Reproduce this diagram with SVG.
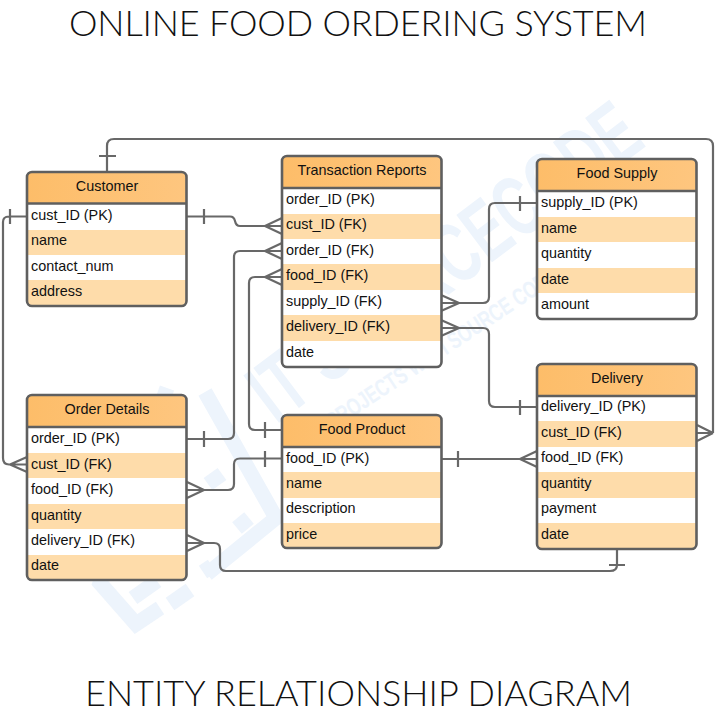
<svg xmlns="http://www.w3.org/2000/svg" width="720" height="720" viewBox="0 0 720 720">
<style>
text{font-family:"Liberation Sans",Arial,sans-serif;font-size:14.4px;fill:#111}
.h{text-anchor:middle}
text.t{font-family:Lato,"Open Sans",sans-serif;font-weight:300;font-size:36px;text-anchor:middle;fill:#111}
text.w{font-weight:700;fill:#edf4fc}
.f{fill:#fff}.a{fill:#fedcaa}.hd{fill:url(#g)}
.b{fill:none;stroke:#5f5f5f;stroke-width:2.6}
.hl{stroke:#5f5f5f;stroke-width:2.4}
#connectors path{fill:none;stroke:#686868;stroke-width:2.2}
.wm{fill:none;stroke:#edf4fc;stroke-width:15}
</style>
<defs>
<linearGradient id="g" x1="0" y1="0" x2="1" y2="0"><stop offset="0" stop-color="#fdbd69"/><stop offset="1" stop-color="#fec67f"/></linearGradient>
<clipPath id="c1"><rect x="27" y="172" width="159.500" height="134" rx="5"/></clipPath>
<clipPath id="c2"><rect x="27" y="395" width="159.500" height="185" rx="5"/></clipPath>
<clipPath id="c3"><rect x="282" y="156" width="159.500" height="211" rx="5"/></clipPath>
<clipPath id="c4"><rect x="282" y="415" width="159.500" height="133" rx="5"/></clipPath>
<clipPath id="c5"><rect x="537" y="159" width="159.500" height="160" rx="5"/></clipPath>
<clipPath id="c6"><rect x="537" y="364" width="159.500" height="185" rx="5"/></clipPath>
</defs>
<rect width="720" height="720" fill="#fff"/>
<g id="watermark">
<path class="wm" d="M167 388L100 583L136 624L160 608"/>
<path class="wm" d="M205 392L276 518L207 574"/>
<path class="wm" d="M133 598L157 581M170 604L190 590M203 572L212 566M237 528L249 518M208 484L222 474"/>
<text class="w" style="font-size:86px" textLength="465" lengthAdjust="spacingAndGlyphs" transform="translate(276 425) rotate(-37)">IT SOURCECODE</text>
<text class="w" style="font-size:24px" textLength="272" lengthAdjust="spacingAndGlyphs" transform="translate(333 430) rotate(-33.500)">PROJECTS WITH SOURCE CODE</text>
</g>
<text class="t" x="358" y="36" textLength="578" lengthAdjust="spacing">ONLINE FOOD ORDERING SYSTEM</text>
<text class="t" x="358.500" y="706" textLength="547" lengthAdjust="spacing">ENTITY RELATIONSHIP DIAGRAM</text>
<g id="connectors">
<path d="M107 172V146Q107 139 114 139H706Q713 139 713 146V433M99 156H116M713 433L697 425M713 433L697 441M713 433H697"/>
<path d="M187 216.500H230Q234 216.500 235 221Q236 226 240 226H282M204 209V224M265 226L282 218M265 226L282 234"/>
<path d="M27 216.500H9Q3 216.500 3 222V458Q3 464.500 9 464.500H27M10 209V224M10 464.500L27 457M10 464.500L27 472"/>
<path d="M187 439H228Q234 439 234 433V257Q234 251 240 251H282M204 431V447M265 251L282 243M265 251L282 259"/>
<path d="M282 430H255Q249 430 249 424V283Q249 277 255 277H282M265 422V438M265 277L282 269M265 277L282 285"/>
<path d="M282 458.500H240Q234 458.500 234 464V484Q234 490 228 490H187M265 451V467M204 490L187 482M204 490L187 498"/>
<path d="M187 543H214Q220 543 220 549V565Q220 571 226 571H610Q617 571 617 565V549M609 565H625M204 543L187 535M204 543L187 551"/>
<path d="M441 459H537M458 451V467M520 459L537 451M520 459L537 467"/>
<path d="M441 303H483Q489 303 489 297V209Q489 203 495 203H537M520 196V211M459 303L441 295M459 303L441 311"/>
<path d="M441 328H483Q489 328 489 334V401Q489 407 495 407H537M520 400V415M459 328L441 320M459 328L441 336"/>
</g>
<g id="customer">
<g clip-path="url(#c1)"><rect class="hd" x="27" y="172" width="160" height="32"/><rect class="f" x="27" y="204" width="160" height="26"/><rect class="a" x="27" y="230" width="160" height="25"/><rect class="f" x="27" y="255" width="160" height="25"/><rect class="a" x="27" y="280" width="160" height="26"/></g>
<path class="hl" d="M27 203.500H186.500"/><rect class="b" x="27" y="172" width="159.500" height="134" rx="5"/>
<text class="h" x="107" y="191">Customer</text>
<text x="31" y="220">cust_ID (PK)</text><text x="31" y="245">name</text><text x="31" y="271">contact_num</text><text x="31" y="296">address</text>
</g>
<g id="order-details">
<g clip-path="url(#c2)"><rect class="hd" x="27" y="395" width="160" height="32"/><rect class="f" x="27" y="427" width="160" height="26"/><rect class="a" x="27" y="453" width="160" height="25"/><rect class="f" x="27" y="478" width="160" height="26"/><rect class="a" x="27" y="504" width="160" height="25"/><rect class="f" x="27" y="529" width="160" height="26"/><rect class="a" x="27" y="555" width="160" height="25"/></g>
<path class="hl" d="M27 427H186.500"/><rect class="b" x="27" y="395" width="159.500" height="185" rx="5"/>
<text class="h" x="107" y="414">Order Details</text>
<text x="31" y="443">order_ID (PK)</text><text x="31" y="469">cust_ID (FK)</text><text x="31" y="494">food_ID (FK)</text><text x="31" y="520">quantity</text><text x="31" y="545">delivery_ID (FK)</text><text x="31" y="570">date</text>
</g>
<g id="transaction-reports">
<g clip-path="url(#c3)"><rect class="hd" x="282" y="156" width="160" height="32"/><rect class="f" x="282" y="188" width="160" height="26"/><rect class="a" x="282" y="214" width="160" height="25"/><rect class="f" x="282" y="239" width="160" height="25"/><rect class="a" x="282" y="264" width="160" height="26"/><rect class="f" x="282" y="290" width="160" height="25"/><rect class="a" x="282" y="315" width="160" height="26"/><rect class="f" x="282" y="341" width="160" height="26"/></g>
<path class="hl" d="M282 188H441.500"/><rect class="b" x="282" y="156" width="159.500" height="211" rx="5"/>
<text class="h" x="362" y="175">Transaction Reports</text>
<text x="286" y="204">order_ID (PK)</text><text x="286" y="229">cust_ID (FK)</text><text x="286" y="255">order_ID (FK)</text><text x="286" y="280">food_ID (FK)</text><text x="286" y="306">supply_ID (FK)</text><text x="286" y="331">delivery_ID (FK)</text><text x="286" y="357">date</text>
</g>
<g id="food-product">
<g clip-path="url(#c4)"><rect class="hd" x="282" y="415" width="160" height="32"/><rect class="f" x="282" y="447" width="160" height="25"/><rect class="a" x="282" y="472" width="160" height="26"/><rect class="f" x="282" y="498" width="160" height="25"/><rect class="a" x="282" y="523" width="160" height="25"/></g>
<path class="hl" d="M282 447H441.500"/><rect class="b" x="282" y="415" width="159.500" height="133" rx="5"/>
<text class="h" x="362" y="434">Food Product</text>
<text x="286" y="463">food_ID (PK)</text><text x="286" y="488">name</text><text x="286" y="513">description</text><text x="286" y="539">price</text>
</g>
<g id="food-supply">
<g clip-path="url(#c5)"><rect class="hd" x="537" y="159" width="160" height="32"/><rect class="f" x="537" y="191" width="160" height="26"/><rect class="a" x="537" y="217" width="160" height="25"/><rect class="f" x="537" y="242" width="160" height="26"/><rect class="a" x="537" y="268" width="160" height="25"/><rect class="f" x="537" y="293" width="160" height="26"/></g>
<path class="hl" d="M537 191H696.500"/><rect class="b" x="537" y="159" width="159.500" height="160" rx="5"/>
<text class="h" x="617" y="178">Food Supply</text>
<text x="541" y="207">supply_ID (PK)</text><text x="541" y="233">name</text><text x="541" y="258">quantity</text><text x="541" y="284">date</text><text x="541" y="309">amount</text>
</g>
<g id="delivery">
<g clip-path="url(#c6)"><rect class="hd" x="537" y="364" width="160" height="32"/><rect class="f" x="537" y="396" width="160" height="25"/><rect class="a" x="537" y="421" width="160" height="26"/><rect class="f" x="537" y="447" width="160" height="25"/><rect class="a" x="537" y="472" width="160" height="26"/><rect class="f" x="537" y="498" width="160" height="25"/><rect class="a" x="537" y="523" width="160" height="26"/></g>
<path class="hl" d="M537 396H696.500"/><rect class="b" x="537" y="364" width="159.500" height="185" rx="5"/>
<text class="h" x="617" y="383">Delivery</text>
<text x="541" y="411">delivery_ID (PK)</text><text x="541" y="437">cust_ID (FK)</text><text x="541" y="462">food_ID (FK)</text><text x="541" y="488">quantity</text><text x="541" y="513">payment</text><text x="541" y="539">date</text>
</g>
</svg>
